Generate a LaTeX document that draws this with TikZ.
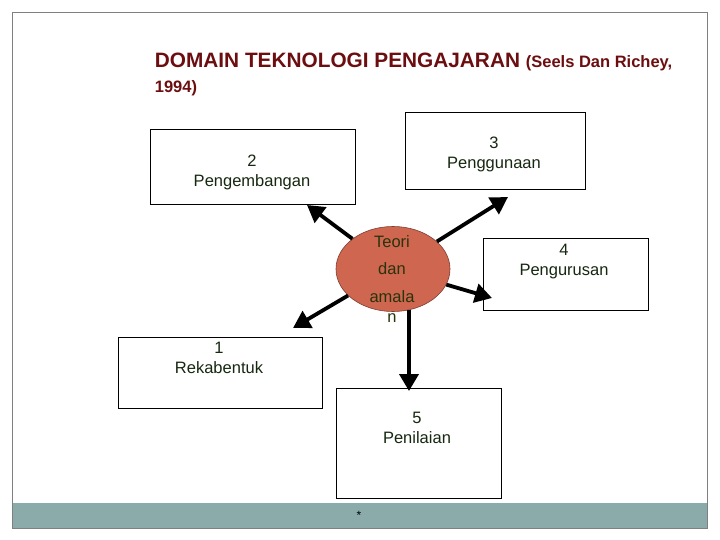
\documentclass[tikz,border=0pt]{standalone}
\usepackage{fontspec}
\setmainfont{Liberation Sans}
\usetikzlibrary{arrows.meta,shapes.geometric}
\definecolor{titlered}{RGB}{108,14,16}
\definecolor{labelgreen}{RGB}{22,40,16}
\definecolor{corefill}{RGB}{206,102,80}
\definecolor{barteal}{RGB}{139,171,171}

\begin{document}
\begin{tikzpicture}[x=1pt,y=-1pt,->,>={Triangle[length=17pt,width=19pt]},
  line width=3.8pt]
  \tikzstyle{domain box}=[draw=black,line width=0.9pt,rectangle,inner sep=0pt]
  \tikzstyle{domain text}=[text=labelgreen,align=center,font=\fontsize{16.5}{20}\selectfont]
  \tikzstyle{title text}=[anchor=base west,inner sep=0pt,text=titlered,font=\bfseries]

  \useasboundingbox (0,0) rectangle (720,540);
  % frame and footer bar
  \fill[white] (0,0) rectangle (720,540);
  \fill[barteal] (12,503) rectangle (707,528);
  \draw[-,gray,line width=0.9pt] (12,12) rectangle (707,528);
  \node (star) at (359,515) {\fontsize{12}{12}\selectfont *};

  % title
  \node[title text] (title) at (153,68)
    {\fontsize{20.8}{25}\selectfont DOMAIN TEKNOLOGI PENGAJARAN
     {\fontsize{16.5}{25}\selectfont(Seels Dan Richey,}};
  \node[title text] (year) at (153,93) {\fontsize{16.5}{25}\selectfont 1994)};

  % boxes
  \node[domain box,minimum width=205pt,minimum height=75pt]  (B2) at (252.5,166.5) {};
  \node[domain box,minimum width=180pt,minimum height=77pt]  (B3) at (495,150.5) {};
  \node[domain box,minimum width=165pt,minimum height=72pt]  (B4) at (565.5,274) {};
  \node[domain box,minimum width=204pt,minimum height=71pt]  (B1) at (220,372.5) {};
  \node[domain box,minimum width=165pt,minimum height=110pt] (B5) at (418.5,443) {};

  \node[domain text] (L2) at (252,172) {2\\Pengembangan};
  \node[domain text] (L3) at (494,154) {3\\Penggunaan};
  \node[domain text] (L4) at (564,262) {4\\Pengurusan};
  \node[domain text] (L1) at (219,358) {1\\Rekabentuk};
  \node[domain text] (L5) at (417,428) {5\\Penilaian};

  % core
  \node[ellipse,draw=corefill!60!black,line width=0.6pt,fill=corefill,
    minimum width=114pt,minimum height=85pt,inner sep=0pt] (core) at (393,269) {};
  \node[text={rgb,255:red,40;green,52;blue,12},align=center,
    font=\fontsize{16.5}{20}\selectfont] (coretext) at (392,279)
    {Teori\\[7pt]dan\\[8pt]amala\\n};

  % arrow tips
  \coordinate (T2) at (307,205);
  \coordinate (T3) at (508,197);
  \coordinate (T4) at (492,298);
  \coordinate (T1) at (293,328);
  \coordinate (T5) at (409,391);

  \path (core) edge (T2)
        (core) edge (T3)
        (core) edge (T4)
        (core) edge (T1)
        (core.-68 -| T5) edge (T5);
\end{tikzpicture}
\end{document}
